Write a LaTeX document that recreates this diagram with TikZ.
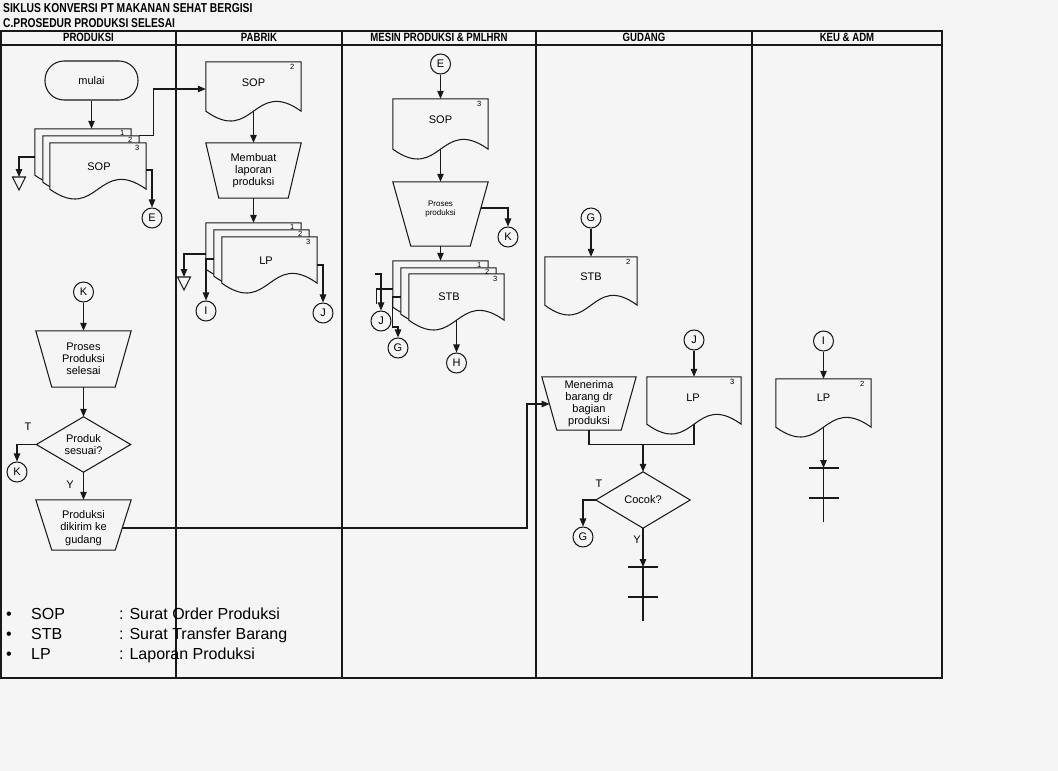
\documentclass[tikz,border=0pt]{standalone}
\usepackage{fontspec}
\setmainfont{Liberation Sans}
\newfontfamily\narrowfont{Liberation Sans}[FakeStretch=0.8]
\usetikzlibrary{arrows.meta,calc}
\definecolor{bg}{RGB}{245,245,245}
\definecolor{ln}{RGB}{25,25,25}
\newcommand\shapefont{\fontsize{11}{12.2}\selectfont}
\newcommand\numfont{\fontsize{7.5}{8}\selectfont}
\newcommand\smallshapefont{\fontsize{8}{9.5}\selectfont}
\newcommand\docout[1]{\filldraw[base,fill=bg] (#1.north west) -- (#1.north east) -- (#1.south east) .. controls ($(#1.south)+(0,-34)$) and ($(#1.south)+(0,34)$) .. (#1.south west) -- cycle;}
\newcommand\trapout[2]{\draw[base] (#1.north west) -- (#1.north east) -- ($(#1.south east)+(-#2,0)$) -- ($(#1.south west)+(#2,0)$) -- cycle;}
\newcommand\diaout[1]{\draw[base] (#1.north) -- (#1.east) -- (#1.south) -- (#1.west) -- cycle;}
\newcommand\triout[1]{\draw[base] ($(#1)+(-6.5,0)$) -- ($(#1)+(6.5,0)$) -- ($(#1)+(0,13)$) -- cycle;}
\newcommand\barsout[1]{\draw[base] (#1) -- ++(0,54); \draw[base] ($(#1)+(-15,0)$) -- ++(30,0); \draw[base] ($(#1)+(-15,30)$) -- ++(30,0);}
\tikzset{
  base/.style={line width=1.05pt, draw=ln},
  arr/.style={base, -{Triangle[length=8pt,width=6.5pt]}},
  conn/.style={circle, draw=ln, line width=1.05pt, minimum size=20pt, inner sep=0pt, font=\shapefont},
  box/.style 2 args={rectangle, inner sep=0pt, minimum width=#1, minimum height=#2},
  lbl/.style={font=\shapefont, align=center, inner sep=0pt},
  num/.style={font=\numfont, inner sep=0pt},
  hdr/.style={font=\narrowfont\bfseries\fontsize{12}{14}\selectfont, inner sep=0pt, anchor=base},
  legend/.style={font=\fontsize{16}{18}\selectfont, inner sep=0pt, anchor=base west},
}
\begin{document}
\begin{tikzpicture}[x=1pt,y=-1pt]
\fill[bg] (0,0) rectangle (1058,771);
\useasboundingbox (0,0) rectangle (1058,771);

% titles
\node[hdr, anchor=base west, font=\narrowfont\bfseries\fontsize{12.9}{14}\selectfont] (t1) at (3,12.7) {SIKLUS KONVERSI PT MAKANAN SEHAT BERGISI};
\node[hdr, anchor=base west, font=\narrowfont\bfseries\fontsize{12.8}{14}\selectfont] (t2) at (3,27.5) {C.PROSEDUR PRODUKSI SELESAI};

% frame
\draw[base] (1,31) rectangle (942,678);
\draw[base] (1,45) -- (942,45);
\foreach \x in {176,342,536,752} \draw[base] (\x,31) -- (\x,678);
\node[hdr] (h1) at (88.5,41.5) {PRODUKSI};
\node[hdr] (h2) at (259,41.5) {PABRIK};
\node[hdr] (h3) at (439,41.5) {MESIN PRODUKSI \& PMLHRN};
\node[hdr] (h4) at (644,41.5) {GUDANG};
\node[hdr] (h5) at (847,41.5) {KEU \& ADM};

% ===== PRODUKSI =====
\node[box={93pt}{39pt}, draw=ln, line width=1.05pt, rounded corners=19pt, font=\shapefont] (mulai) at (91.5,80.5) {mulai};
\node[box={96pt}{46pt}] (sopA1) at (83,152) {};
\node[box={96pt}{46pt}] (sopA2) at (91,159) {};
\node[box={96pt}{46pt}] (sopA3) at (98,166) {};
\docout{sopA1}\docout{sopA2}\docout{sopA3}
\node[lbl] (sopAt) at (99,167) {SOP};
\node[num] (sopAn1) at ($(sopA1.north east)+(-9,4.5)$) {1};
\node[num] (sopAn2) at ($(sopA2.north east)+(-9,4.5)$) {2};
\node[num] (sopAn3) at ($(sopA3.north east)+(-9,5)$) {3};
\coordinate (tri1) at (19,177);
\triout{tri1}
\node[conn] (E1) at (152,218) {E};
\draw[arr] (mulai.south) -- (mulai.south |- sopA1.north);
\draw[arr] ($(sopA1.west)+(0,5)$) -| (tri1);
\draw[arr] ($(sopA3.east)+(0,4)$) -| (E1.north);

\node[conn] (K2) at (83.5,292) {K};
\node[box={95pt}{56pt}, lbl] (tr1) at (83.5,359) {Proses\\Produksi\\selesai};
\trapout{tr1}{16}
\node[box={94pt}{55pt}, lbl] (dia1) at (83.5,444.5) {Produk\\sesuai?};
\diaout{dia1}
\node[conn] (K3) at (17,472) {K};
\node[lbl] (T1) at (28,427) {T};
\node[lbl] (Y1) at (70,485) {Y};
\node[box={95pt}{50pt}] (tr2) at (83.5,525) {};
\node[lbl] (tr2t) at (83.5,528) {Produksi\\dikirim ke\\gudang};
\trapout{tr2}{16}
\draw[arr] (K2.south) -- (tr1.north);
\draw[arr] (tr1.south) -- (dia1.north);
\draw[arr] (dia1.west) -| (K3.north);
\draw[arr] (dia1.south) -- (tr2.north);

% ===== PABRIK =====
\node[box={95pt}{49pt}] (sopP) at (253.5,86.5) {};
\docout{sopP}
\node[lbl] (sopPt) at (253.5,83) {SOP};
\node[num] (sopPn) at ($(sopP.north east)+(-9,5.5)$) {2};
\node[box={95pt}{55pt}, lbl] (mem) at (253.5,170.5) {Membuat\\laporan\\produksi};
\trapout{mem}{13}
\node[box={95pt}{46pt}] (lpA1) at (253.5,246) {};
\node[box={95pt}{46pt}] (lpA2) at (261.5,253) {};
\node[box={95pt}{46pt}] (lpA3) at (269.5,260) {};
\docout{lpA1}\docout{lpA2}\docout{lpA3}
\node[lbl] (lpAt) at (266,261) {LP};
\node[num] (lpAn1) at ($(lpA1.north east)+(-9,4.5)$) {1};
\node[num] (lpAn2) at ($(lpA2.north east)+(-9,4.5)$) {2};
\node[num] (lpAn3) at ($(lpA3.north east)+(-9,5)$) {3};
\coordinate (tri2) at (184,277);
\triout{tri2}
\node[conn] (I1) at (206,311) {I};
\node[conn] (J1) at (323,313) {J};
\draw[arr] (sopA2.north east) -- ++(14,0) |- ($(sopP.west)+(0,2.5)$);
\draw[arr] (sopP.south) -- (mem.north);
\draw[arr] (mem.south) -- (lpA1.north);
\draw[arr] ($(lpA1.west)+(0,8)$) -| (tri2);
\draw[arr] ($(lpA2.west)+(0,6)$) -| (I1.north);
\draw[arr] ($(lpA3.east)+(0,5)$) -| (J1.north);

% ===== MESIN =====
\node[conn] (E2) at (440.5,64) {E};
\node[box={95pt}{50pt}] (sopM) at (440.5,124) {};
\docout{sopM}
\node[lbl] (sopMt) at (440.5,120) {SOP};
\node[num] (sopMn) at ($(sopM.north east)+(-9,5.5)$) {3};
\node[box={95pt}{64pt}] (pro) at (440.5,214) {};
\trapout{pro}{18}
\node[lbl, font=\smallshapefont] (prot) at (440.5,209) {Proses\\produksi};
\coordinate (kP) at (480.7,208);
\node[conn] (K1) at (508,237) {K};
\node[box={95pt}{46pt}] (stbA1) at (440.5,284) {};
\node[box={95pt}{46pt}] (stbA2) at (448.5,291) {};
\node[box={95pt}{46pt}] (stbA3) at (456.5,297) {};
\docout{stbA1}\docout{stbA2}\docout{stbA3}
\node[lbl] (stbAt) at (449,297) {STB};
\node[num] (stbAn1) at ($(stbA1.north east)+(-9,4.5)$) {1};
\node[num] (stbAn2) at ($(stbA2.north east)+(-9,4.5)$) {2};
\node[num] (stbAn3) at ($(stbA3.north east)+(-9,5)$) {3};
\coordinate (jstub) at (375,274);
\node[conn] (J2) at (381,321) {J};
\node[conn] (G1) at (398,348) {G};
\node[conn] (H1) at (456.5,363) {H};
\draw[arr] (E2.south) -- (sopM.north);
\draw[arr] (sopM.south) -- (pro.north);
\draw[arr] (kP) -| (K1.north);
\draw[arr] (pro.south) -- (stbA1.north);
\draw[arr] (jstub) -| (J2.north);
\draw[base] ($(stbA1.west)+(0,5)$) -- ++(-16,0) -- ++(0,15);
\draw[arr] ($(stbA2.west)+(0,6)$) -- ++(-8,0) -- ++(0,30) -| (G1.north);
\draw[arr] (stbA3.south) -- (H1.north);

% ===== GUDANG =====
\node[conn] (G2) at (591,218) {G};
\node[box={92pt}{48pt}] (stbG) at (591,281) {};
\docout{stbG}
\node[lbl] (stbGt) at (591,277) {STB};
\node[num] (stbGn) at ($(stbG.north east)+(-9,5.5)$) {2};
\node[conn] (J3) at (694,340) {J};
\node[box={94pt}{47pt}] (lpG) at (694,400.5) {};
\docout{lpG}
\node[lbl] (lpGt) at (693,398) {LP};
\node[num] (lpGn) at ($(lpG.north east)+(-9,5.5)$) {3};
\node[box={94pt}{53pt}, lbl] (men) at (589,403.5) {Menerima\\barang dr\\bagian\\produksi};
\trapout{men}{15}
\coordinate (pdR) at (122,528);
\coordinate (bend1) at (527,528);
\coordinate (menL) at (549.6,404);
\coordinate (join) at (643,444);
\node[box={94pt}{56pt}, lbl] (coc) at (643,500) {Cocok?};
\diaout{coc}
\node[lbl] (T2) at (599,484) {T};
\node[lbl] (Y2) at (637,540) {Y};
\node[conn] (G3) at (583,537) {G};
\coordinate (bar1) at (643,567);
\barsout{bar1}
\draw[arr] (G2.south) -- (stbG.north);
\draw[arr] (J3.south) -- (lpG.north);
\draw[arr] (pdR) -- (bend1) |- (menL);
\draw[base] (men.south) -- ++(0,14) -| (lpG.south);
\draw[arr] (join) -- (coc.north);
\draw[arr] (coc.west) -| (G3.north);
\draw[arr] (coc.south) -- (bar1);

% ===== KEU & ADM =====
\node[conn] (I2) at (823.5,341) {I};
\node[box={95pt}{48pt}] (lpK) at (823.5,403) {};
\docout{lpK}
\node[lbl] (lpKt) at (823.5,398) {LP};
\node[num] (lpKn) at ($(lpK.north east)+(-9,5.5)$) {2};
\coordinate (bar2) at (823.5,468);
\barsout{bar2}
\draw[arr] (I2.south) -- (lpK.north);
\draw[arr] (lpK.south) -- (bar2);

% ===== legend =====
\node[legend] (b1) at (6,619.5) {•};
\node[legend] (b2) at (6,639.5) {•};
\node[legend] (b3) at (6,659.5) {•};
\node[legend] (l1) at (31,619.5) {SOP};
\node[legend] (l2) at (31,639.5) {STB};
\node[legend] (l3) at (31,659.5) {LP};
\node[legend] (d1) at (119,619.5) {: Surat Order Produksi};
\node[legend] (d2) at (119,639.5) {: Surat Transfer Barang};
\node[legend] (d3) at (119,659.5) {: Laporan Produksi};
\end{tikzpicture}
\end{document}
